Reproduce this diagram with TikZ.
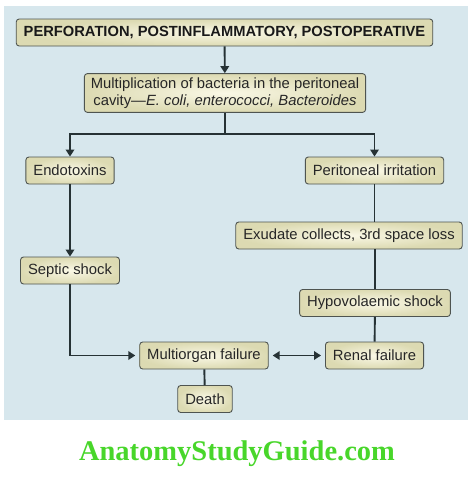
\documentclass[tikz,border=0pt]{standalone}
\usepackage{fontspec}
\setmainfont{Liberation Sans}
\newfontfamily\markfont{Liberation Serif}
\usetikzlibrary{arrows.meta}

\definecolor{panelblue}{HTML}{D7E7ED}
\definecolor{boxin}{HTML}{FAF8E6}
\definecolor{boxout}{HTML}{DCDAB2}
\definecolor{boxline}{HTML}{4E5450}
\definecolor{flowline}{HTML}{263235}
\definecolor{markgreen}{HTML}{48D62A}

\tikzset{
  box/.style={draw=boxline, line width=0.9pt, rounded corners=3pt,
    inner color=boxin, outer color=boxout, minimum height=27pt,
    inner xsep=7.5pt, inner ysep=2pt, text=black!85,
    font=\fontsize{14.8}{17}\selectfont},
  flow/.style={draw=flowline, line width=1.9pt},
  arr/.style={flow, -{Triangle[length=7pt,width=8.5pt]}},
  twoarr/.style={flow, {Triangle[length=7pt,width=8.5pt]}-{Triangle[length=7pt,width=8.5pt]}}
}

\begin{document}
\begin{tikzpicture}[x=1pt, y=-1pt]
      \useasboundingbox (0,0) rectangle (474,479);
      \fill[panelblue] (4,6) rectangle (468,420);

      \node[box, font=\fontsize{14.7}{17}\selectfont\bfseries, text=black!90] (top) at (224.5,32.5){PERFORATION, POSTINFLAMMATORY, POSTOPERATIVE};
      \node[box, align=center, inner ysep=4pt, inner xsep=6.5pt] (mult) at (225,93){Multiplication of bacteria in the peritoneal\\cavity---\textit{E. coli, enterococci, Bacteroides}};
      \coordinate (split) at (225,134);

      \node[box] (endo) at (70,170.5){Endotoxins};
      \node[box] (peri) at (374.5,170.5){Peritoneal irritation};
      \node[box] (exu) at (349,235.5){Exudate collects, 3rd space loss};
      \node[box] (septic) at (70,270.5){Septic shock};
      \node[box] (hypo) at (375,303){Hypovolaemic shock};
      \node[box] (multi) at (204,355.5){Multiorgan failure};
      \node[box] (renal) at (374.5,355.5){Renal failure};
      \node[box] (death) at (205,399){Death};

      \draw[arr] (top) to (mult);
      \draw[flow] (mult) to (split);
      \draw[arr] (split) -| (endo);
      \draw[arr] (split) -| (peri);
      \draw[arr] (endo) to (septic);
      \draw[flow] (peri.south) to (peri.south |- exu.north);
      \draw[flow] (hypo.north |- exu.south) to (hypo);
      \draw[flow] (hypo) to (renal);
      \draw[arr, shorten >=4pt] (septic) |- (multi);
      \draw[twoarr, shorten <=4pt, shorten >=4pt] (multi) to (renal);
      \draw[flow] (multi) to (death);

      \node[text=markgreen, font=\markfont\bfseries\fontsize{28.5}{32}\selectfont] (mark) at (237,454){AnatomyStudyGuide.com};
    \end{tikzpicture}
\end{document}
